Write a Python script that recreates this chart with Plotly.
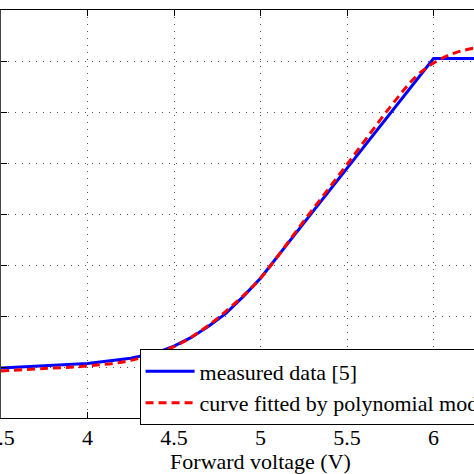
import plotly.graph_objects as go

# measured data (blue)
x_meas = [3.5, 3.75, 4.0, 4.25, 4.4, 4.5, 4.6, 4.7, 4.8, 4.9, 5.0, 5.25, 5.5, 5.75, 6.0, 6.5]
y_meas = [0.98, 1.02, 1.07, 1.17, 1.28, 1.41, 1.58, 1.80, 2.05, 2.38, 2.74, 3.82, 4.90, 5.98, 7.05, 7.05]

# fitted polynomial curve (red dashed)
x_fit = [3.5, 3.75, 4.0, 4.25, 4.5, 4.625, 4.75, 4.875, 5.0, 5.25, 5.5, 5.75, 5.9, 6.0, 6.1, 6.2, 6.3, 6.4, 6.5]
y_fit = [0.92, 0.97, 1.02, 1.13, 1.40, 1.64, 1.95, 2.32, 2.74, 3.86, 4.97, 6.10, 6.70, 6.96, 7.13, 7.23, 7.28, 7.29, 7.27]

x_ticks = [3.5, 4, 4.5, 5, 5.5, 6, 6.5]
x_ticktext = ["3.5", "4", "4.5", "5", "5.5", "6", "6.5"]

names = ["measured data [5]", "curve fitted by polynomial model"]

FONT = "Liberation Serif"

fig = go.Figure()
fig.add_trace(go.Scatter(x=x_meas, y=y_meas, mode="lines", name=names[0],
                         line=dict(color="#0000ff", width=3)))
fig.add_trace(go.Scatter(x=x_fit, y=y_fit, mode="lines", name=names[1],
                         line=dict(color="#ff0000", width=3, dash="8px,5px", shape="spline")))

fig.update_layout(
    width=540, height=474,
    margin=dict(l=1, r=20, t=10, b=56, autoexpand=False),
    paper_bgcolor="white", plot_bgcolor="white",
    font=dict(family=FONT, size=22, color="black"),
    showlegend=True,
    legend=dict(x=0.267, y=0.168, xanchor="left", yanchor="top",
                bgcolor="white", bordercolor="black", borderwidth=1,
                font=dict(family=FONT, size=22, color="black"),
                itemwidth=49, tracegroupgap=0),
    xaxis=dict(range=[3.5, 6.5], tickvals=x_ticks, ticktext=x_ticktext,
               ticks="inside", ticklen=6, tickcolor="black",
               showline=True, linecolor="black", linewidth=1, mirror="ticks",
               showgrid=True, gridcolor="#555555", gridwidth=1, griddash="1px,6px",
               zeroline=False, ticklabeloverflow="allow", automargin=False,
               title=dict(text="Forward voltage (V)", font=dict(family=FONT, size=22), standoff=2),
               tickfont=dict(family=FONT, size=22)),
    yaxis=dict(range=[0, 8], dtick=1, showticklabels=False, automargin=False,
               ticks="inside", ticklen=6, tickcolor="black",
               showline=True, linecolor="#444444", linewidth=2, mirror="ticks",
               showgrid=True, gridcolor="#555555", gridwidth=1, griddash="1px,6px",
               zeroline=False),
)

fig.write_html("out.html",
               post_script="document.documentElement.style.overflow='hidden';document.body.style.overflow='hidden';document.body.style.margin='0';")
